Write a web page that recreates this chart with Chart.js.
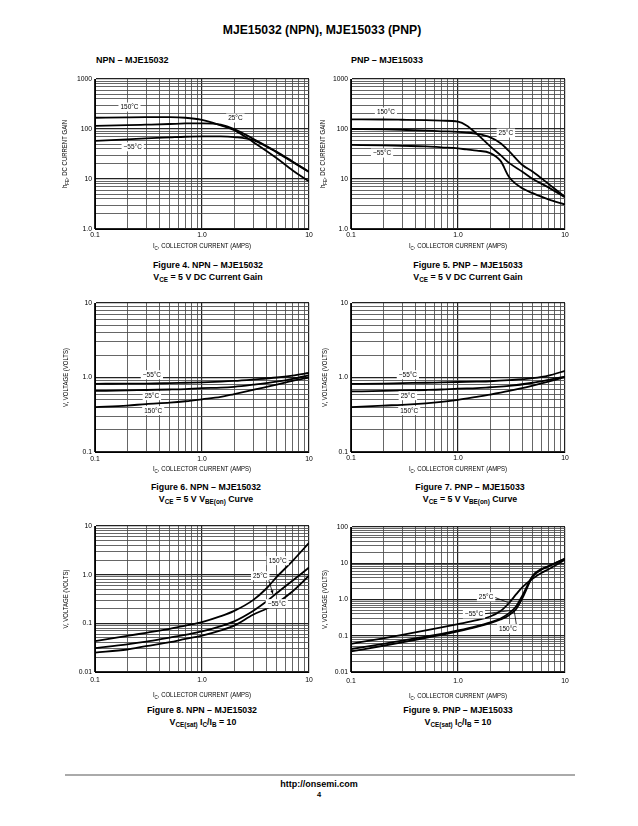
<!DOCTYPE html>
<html>
<head>
<meta charset="utf-8">
<script src="https://cdn.jsdelivr.net/npm/chart.js@4.4.1/dist/chart.umd.min.js"></script>
<style>
body{margin:0;background:#fff;width:638px;height:826px;position:relative;overflow:hidden;font-family:"Liberation Sans",Arial,sans-serif;color:#000}
.t{position:absolute;white-space:nowrap;font-weight:bold;line-height:1}
.c{transform:translateX(-50%)}
canvas{position:absolute}
sub{font-size:72%;vertical-align:-2px;line-height:0}
#rule{position:absolute;left:65px;top:774px;width:510px;height:2px;background:#aaa}
</style>
</head>
<body>
<div class="t c" style="left:322px;top:24px;font-size:12.2px">MJE15032 (NPN), MJE15033 (PNP)</div>
<div class="t" style="left:96px;top:56px;font-size:9px">NPN – MJE15032</div>
<div class="t" style="left:351px;top:56px;font-size:9px">PNP – MJE15033</div>

<div class="t c" style="left:208px;top:261px;font-size:8.8px">Figure 4. NPN – MJE15032</div>
<div class="t c" style="left:208px;top:273px;font-size:8.8px">V<sub>CE</sub> = 5 V DC Current Gain</div>
<div class="t c" style="left:468px;top:261px;font-size:8.8px">Figure 5. PNP – MJE15033</div>
<div class="t c" style="left:468px;top:273px;font-size:8.8px">V<sub>CE</sub> = 5 V DC Current Gain</div>

<div class="t c" style="left:206px;top:483px;font-size:8.8px">Figure 6. NPN – MJE15032</div>
<div class="t c" style="left:206px;top:495px;font-size:8.8px">V<sub>CE</sub> = 5 V V<sub>BE(on)</sub> Curve</div>
<div class="t c" style="left:470px;top:483px;font-size:8.8px">Figure 7. PNP – MJE15033</div>
<div class="t c" style="left:470px;top:495px;font-size:8.8px">V<sub>CE</sub> = 5 V V<sub>BE(on)</sub> Curve</div>

<div class="t c" style="left:202px;top:706px;font-size:8.8px">Figure 8. NPN – MJE15032</div>
<div class="t c" style="left:203px;top:718px;font-size:8.8px">V<sub>CE(sat)</sub> I<sub>C</sub>/I<sub>B</sub> = 10</div>
<div class="t c" style="left:458px;top:706px;font-size:8.8px">Figure 9. PNP – MJE15033</div>
<div class="t c" style="left:458px;top:718px;font-size:8.8px">V<sub>CE(sat)</sub> I<sub>C</sub>/I<sub>B</sub> = 10</div>

<div id="rule"></div>
<div class="t c" style="left:319px;top:780px;font-size:9px">http://onsemi.com</div>
<div class="t c" style="left:319px;top:791px;font-size:7.5px">4</div>

<script>
// collector current, amps
const xMajor = [0.1, 1, 10];
const xMajorText = ['0.1', '1.0', '10'];

// Figure 4 - NPN DC current gain
const icNpnGain = [0.1, 0.2, 0.3, 0.5, 0.7, 1.0, 1.5, 2, 3, 5, 7, 10];
const npnGain150 = [168, 171, 172, 172, 168, 152, 118, 95, 55, 26, 15, 9];
const npnGain25 = [115, 119, 122, 126, 129, 130, 122, 100, 64, 35, 22.5, 14];
const npnGainM55 = [58, 62, 65, 68, 70, 71, 71, 69, 60, 34, 22, 13.8];

// Figure 5 - PNP DC current gain
const icPnpGain = [0.1, 0.2, 0.3, 0.5, 0.7, 1.0, 1.2, 1.5, 2, 2.5, 3, 4, 5, 7, 10];
const pnpGain150 = [156, 155, 153, 150, 147, 140, 118, 80, 45, 30, 21, 14, 10, 6.8, 4.3];
const pnpGain25 = [100, 98, 96, 93, 90, 88, 85, 80, 68, 52, 36, 19, 14, 8, 4.4];
const pnpGainM55 = [48, 47, 46, 45, 43, 41, 39, 37, 33, 23, 11, 6.5, 5.2, 3.9, 3.1];

// Figures 6, 7 - VBE(on)
const icVbe = [0.1, 0.2, 0.3, 0.5, 0.7, 1, 1.5, 2, 3, 5, 7, 10];
const npnVbeM55 = [0.82, 0.83, 0.83, 0.84, 0.85, 0.86, 0.88, 0.9, 0.94, 1.0, 1.06, 1.15];
const npnVbe25 = [0.66, 0.67, 0.68, 0.69, 0.7, 0.72, 0.73, 0.75, 0.8, 0.88, 0.96, 1.07];
const npnVbe150 = [0.40, 0.42, 0.44, 0.46, 0.48, 0.51, 0.55, 0.6, 0.68, 0.8, 0.9, 1.0];
const pnpVbeM55 = [0.82, 0.83, 0.84, 0.85, 0.86, 0.87, 0.88, 0.89, 0.92, 0.98, 1.06, 1.23];
const pnpVbe25 = [0.65, 0.66, 0.67, 0.68, 0.69, 0.71, 0.72, 0.74, 0.77, 0.85, 0.93, 1.03];
const pnpVbe150 = [0.40, 0.42, 0.43, 0.45, 0.47, 0.50, 0.55, 0.59, 0.66, 0.78, 0.88, 1.01];

// Figure 8 - NPN VCE(sat)
const icNpnSat = [0.1, 0.2, 0.3, 0.5, 0.7, 1, 1.5, 2, 3, 4, 5, 7, 10];
const npnSat150 = [0.043, 0.055, 0.064, 0.077, 0.09, 0.106, 0.14, 0.18, 0.3, 0.52, 0.9, 1.9, 4.5];
const npnSat25 = [0.031, 0.037, 0.042, 0.051, 0.058, 0.068, 0.088, 0.11, 0.18, 0.28, 0.42, 0.75, 1.4];
const npnSatM55 = [0.025, 0.029, 0.034, 0.041, 0.048, 0.056, 0.072, 0.09, 0.15, 0.2, 0.26, 0.45, 0.95];

// Figure 9 - PNP VCE(sat)
const icPnpSat = [0.1, 0.2, 0.3, 0.5, 0.7, 1, 1.5, 2, 2.5, 3, 3.5, 4, 5, 6, 7, 10];
const pnpSat25 = [0.06, 0.085, 0.105, 0.14, 0.17, 0.21, 0.27, 0.34, 0.48, 0.8, 1.4, 2.2, 3.8, 5.4, 6.8, 12.5];
const pnpSatM55 = [0.043, 0.06, 0.073, 0.095, 0.113, 0.14, 0.185, 0.235, 0.3, 0.42, 0.65, 1.3, 4.6, 6.9, 8.4, 13.5];
const pnpSat150 = [0.037, 0.053, 0.066, 0.088, 0.106, 0.132, 0.175, 0.222, 0.28, 0.37, 0.55, 1.1, 4.3, 6.6, 8.2, 13.2];

// y axes
const gainMajor = [1, 10, 100, 1000], gainText = ['1.0', '10', '100', '1000'];
const vbeMajor = [0.1, 1, 10], vbeText = ['0.1', '1.0', '10'];
const npnSatMajor = [0.01, 0.1, 1, 10], npnSatText = ['0.01', '0.1', '1.0', '10'];
const pnpSatMajor = [0.01, 0.1, 1, 10, 100], pnpSatText = ['0.01', '0.1', '1.0', '10', '100'];

const gainTitle = [{t: 'h'}, {t: 'FE', sub: true}, {t: ', DC CURRENT GAIN'}];
const voltTitle = [{t: 'V, VOLTAGE (VOLTS)'}];
const currentTitle = [{t: 'I'}, {t: 'C', sub: true}, {t: ', COLLECTOR CURRENT (AMPS)'}];

const FONT = '"Liberation Sans", Arial, sans-serif';
const PAD_L = 40, PAD_T = 8, PAD_R = 10, PAD_B = 32;

function logGrid(min, max) {
  const out = [];
  for (let e = Math.round(Math.log10(min)); e < Math.round(Math.log10(max)); e++) {
    for (let d = 1; d < 10; d++) out.push(+(d * Math.pow(10, e)).toPrecision(3));
  }
  out.push(max);
  return out;
}
const near = (a, b) => Math.abs(a - b) / b < 1e-6;

function drawRich(ctx, parts, size, squeeze) {
  let w = 0;
  parts.forEach(p => {
    ctx.font = (p.sub ? size * 0.75 : size) + 'px ' + FONT;
    p.w = ctx.measureText(p.t).width;
    w += p.w;
  });
  ctx.save();
  ctx.scale(squeeze, 1);
  let x = -w / 2;
  ctx.textBaseline = 'middle';
  ctx.textAlign = 'left';
  parts.forEach(p => {
    ctx.font = (p.sub ? size * 0.75 : size) + 'px ' + FONT;
    ctx.fillText(p.t, x, p.sub ? size * 0.32 : 0);
    x += p.w;
  });
  ctx.restore();
}

const annot = {
  id: 'annot',
  afterDatasetsDraw(chart, args, o) {
    const {ctx, chartArea: a, scales: {x, y}} = chart;
    ctx.save();
    ctx.fillStyle = '#000';
    // curve labels
    o.labels.forEach(l => {
      const px = x.getPixelForValue(l.x), py = y.getPixelForValue(l.y);
      ctx.font = '7.2px ' + FONT;
      const w = ctx.measureText(l.t).width * 0.9;
      if (l.lead) {
        const tx = x.getPixelForValue(l.lead[0]), ty = y.getPixelForValue(l.lead[1]);
        const sx = l.lead[0] > l.x ? px + w / 2 : px;
        ctx.strokeStyle = '#000';
        ctx.lineWidth = 0.8;
        ctx.beginPath();
        ctx.moveTo(sx, py);
        ctx.lineTo(tx, ty);
        ctx.stroke();
        if (l.arrow) {
          const ang = Math.atan2(ty - py, tx - sx);
          ctx.beginPath();
          ctx.moveTo(tx, ty);
          ctx.lineTo(tx - 4 * Math.cos(ang - 0.4), ty - 4 * Math.sin(ang - 0.4));
          ctx.lineTo(tx - 4 * Math.cos(ang + 0.4), ty - 4 * Math.sin(ang + 0.4));
          ctx.closePath();
          ctx.fill();
        }
      }
      ctx.fillStyle = '#fff';
      ctx.fillRect(px - w / 2 - 2, py - 4.5, w + 4, 9);
      ctx.fillStyle = '#000';
      ctx.save();
      ctx.translate(px, py);
      drawRich(ctx, [{t: l.t}], 7.2, 0.9);
      ctx.restore();
    });
    // axis titles
    ctx.save();
    ctx.translate((a.left + a.right) / 2, a.bottom + o.titleDy);
    drawRich(ctx, currentTitle, 6.8, 0.88);
    ctx.restore();
    ctx.save();
    ctx.translate(a.left - o.yTitleDx, (a.top + a.bottom) / 2);
    ctx.rotate(-Math.PI / 2);
    drawRich(ctx, o.yTitle, 6.8, 0.88);
    ctx.restore();
    ctx.restore();
  }
};

const charts = [
  {rect: [95, 79, 309, 229], yMin: 1, yMax: 1000, yMajor: gainMajor, yText: gainText, yTitle: gainTitle,
   ic: icNpnGain, series: [npnGain150, npnGain25, npnGainM55], tickPad: 2.5, titleDy: 17.5, yTitleDx: 30,
   labels: [{t: '150°C', x: 0.21, y: 275}, {t: '25°C', x: 2.05, y: 166}, {t: '−55°C', x: 0.225, y: 44}]},
  {rect: [351, 79, 565, 229], yMin: 1, yMax: 1000, yMajor: gainMajor, yText: gainText, yTitle: gainTitle,
   ic: icPnpGain, series: [pnpGain150, pnpGain25, pnpGainM55], tickPad: 2.5, titleDy: 17.5, yTitleDx: 28,
   labels: [{t: '150°C', x: 0.212, y: 219}, {t: '25°C', x: 2.8, y: 83}, {t: '−55°C', x: 0.195, y: 33}]},
  {rect: [95, 303, 309, 452], yMin: 0.1, yMax: 10, yMajor: vbeMajor, yText: vbeText, yTitle: voltTitle,
   ic: icVbe, series: [npnVbeM55, npnVbe25, npnVbe150], tickPad: 3.5, titleDy: 17, yTitleDx: 29,
   labels: [{t: '−55°C', x: 0.34, y: 1.09}, {t: '25°C', x: 0.34, y: 0.57}, {t: '150°C', x: 0.35, y: 0.36}]},
  {rect: [351, 303, 565, 452], yMin: 0.1, yMax: 10, yMajor: vbeMajor, yText: vbeText, yTitle: voltTitle,
   ic: icVbe, series: [pnpVbeM55, pnpVbe25, pnpVbe150], tickPad: 2.5, titleDy: 17, yTitleDx: 26,
   labels: [{t: '−55°C', x: 0.34, y: 1.09}, {t: '25°C', x: 0.34, y: 0.57}, {t: '150°C', x: 0.35, y: 0.36}]},
  {rect: [95, 526, 309, 672], yMin: 0.01, yMax: 10, yMajor: npnSatMajor, yText: npnSatText, yTitle: voltTitle,
   ic: icNpnSat, series: [npnSat150, npnSat25, npnSatM55], tickPad: 4.5, titleDy: 23, yTitleDx: 29,
   labels: [{t: '150°C', x: 5.1, y: 1.94}, {t: '25°C', x: 3.5, y: 0.95, lead: [4.6, 0.4], arrow: true}, {t: '−55°C', x: 5.0, y: 0.254}]},
  {rect: [351, 527, 565, 672], yMin: 0.01, yMax: 100, yMajor: pnpSatMajor, yText: pnpSatText, yTitle: voltTitle,
   ic: icPnpSat, series: [pnpSat25, pnpSatM55, pnpSat150], tickPad: 5.5, titleDy: 24.5, yTitleDx: 26,
   labels: [{t: '25°C', x: 1.83, y: 1.19, lead: [2.95, 0.82]}, {t: '−55°C', x: 1.41, y: 0.40, lead: [3.2, 0.5]},
            {t: '150°C', x: 2.93, y: 0.156, lead: [3.35, 0.5]}]}
];

charts.forEach((c, n) => {
  const [L, T, R, B] = c.rect;
  const cv = document.createElement('canvas');
  cv.width = R - L + PAD_L + PAD_R;
  cv.height = B - T + PAD_T + PAD_B;
  cv.style.left = (L - PAD_L) + 'px';
  cv.style.top = (T - PAD_T) + 'px';
  document.body.appendChild(cv);

  const xGrid = logGrid(0.1, 10), yGrid = logGrid(c.yMin, c.yMax);
  const axis = (grid, major, text) => ({
    type: 'logarithmic',
    afterBuildTicks: s => { s.ticks = grid.map(v => ({value: v})); },
    ticks: {
      autoSkip: false, maxRotation: 0,
      font: {family: FONT, size: 6.8}, color: '#000',
      callback: v => { const i = major.findIndex(m => near(v, m)); return i >= 0 ? text[i] : ''; }
    },
    grid: {
      drawTicks: false,
      color: g => major.some(m => near(g.tick.value, m)) ? '#222' : '#4a4a4a',
      lineWidth: g => major.some(m => near(g.tick.value, m)) ? 1.2 : 0.85
    },
    border: {display: true, color: '#000', width: 1}
  });
  const xs = axis(xGrid, xMajor, xMajorText);
  xs.min = 0.1; xs.max = 10;
  xs.ticks.padding = c.tickPad;
  xs.afterFit = s => { s.height = PAD_B; };
  const ys = axis(yGrid, c.yMajor, c.yText);
  ys.min = c.yMin; ys.max = c.yMax;
  ys.ticks.padding = 3;
  ys.afterFit = s => { s.width = PAD_L; };

  new Chart(cv, {
    type: 'line',
    data: {
      datasets: c.series.map(vals => ({
        data: c.ic.map((x, i) => ({x, y: vals[i]})),
        borderColor: '#000', borderWidth: 1.8, pointRadius: 0,
        cubicInterpolationMode: 'monotone', fill: false
      }))
    },
    options: {
      responsive: false, animation: false,
      layout: {padding: {top: PAD_T, right: PAD_R, left: 0, bottom: 0}},
      scales: {x: xs, y: ys},
      plugins: {
        legend: {display: false}, tooltip: {enabled: false},
        annot: {labels: c.labels, titleDy: c.titleDy, yTitleDx: c.yTitleDx, yTitle: c.yTitle}
      }
    },
    plugins: [annot]
  });
});
</script>
</body>
</html>
